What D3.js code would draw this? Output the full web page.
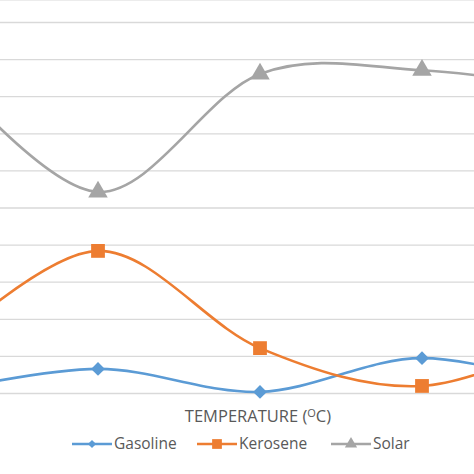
<!DOCTYPE html>
<html>
<head>
<meta charset="utf-8">
<script src="https://cdn.jsdelivr.net/npm/d3@7"></script>
<style>
  body { margin: 0; background: #fff; }
  svg { display: block; }
</style>
</head>
<body>
<div id="chart"></div>
<script>
// data (one value per temperature step; first and last are outside the crop)
var categories = ["T0", "T1", "T2", "T3", "T4"];
var gasoline = [0.0, 0.65, 0.03, 0.94, 0.04];
var kerosene = [1.06, 3.83, 1.21, 0.19, 1.66];
var solar    = [8.98, 5.42, 8.6, 8.7, 8.15];
var yTicks = [0, 1, 2, 3, 4, 5, 6, 7, 8, 9, 10];
var seriesNames = ["Gasoline", "Kerosene", "Solar"];

var width = 474, height = 474;
var colors = {Gasoline: "#5b9bd5", Kerosene: "#ed7d31", Solar: "#a5a5a5"};
// diamond is drawn as a square turned 45 degrees
var symbols = {Gasoline: d3.symbolSquare, Kerosene: d3.symbolSquare, Solar: d3.symbolTriangle};
var rotate = {Gasoline: 45, Kerosene: 0, Solar: 0};

var svg = d3.select("#chart").append("svg")
    .attr("width", width)
    .attr("height", height);

// x positions: the plot is cropped, so the outer categories fall off the page
var x = d3.scalePoint()
    .domain(categories)
    .range([-64, 584]);

var y = d3.scaleLinear()
    .domain([0, 10])
    .range([393, 22]);

// gridlines
svg.append("g")
    .attr("class", "grid")
    .call(d3.axisLeft(y).tickValues(yTicks).tickSize(-width - 20).tickFormat(""))
  .call(function(g) { g.select(".domain").remove(); })
  .selectAll("line")
    .attr("stroke", "#d9d9d9")
    .attr("stroke-width", 1.3);

svg.append("line")
    .attr("x1", 0).attr("x2", width)
    .attr("y1", 0.5).attr("y2", 0.5)
    .attr("stroke", "#ececec");

var series = [
  {name: "Gasoline", values: gasoline},
  {name: "Kerosene", values: kerosene},
  {name: "Solar", values: solar}
];

var line = d3.line()
    .x(function(d, i) { return x(categories[i]); })
    .y(function(d) { return y(d); })
    .curve(d3.curveCardinal.tension(0));

var plot = svg.append("g");

plot.selectAll(".series")
  .data(series)
  .enter().append("path")
    .attr("class", "series")
    .attr("fill", "none")
    .attr("stroke", function(d) { return colors[d.name]; })
    .attr("stroke-width", 2.6)
    .attr("d", function(d) { return line(d.values); });

var markerSize = {Gasoline: 95, Kerosene: 190, Solar: 165};

series.forEach(function(s) {
  plot.selectAll(".m-" + s.name)
    .data(s.values)
    .enter().append("path")
      .attr("transform", function(d, i) {
        return "translate(" + x(categories[i]) + "," + y(d) + ") rotate(" + rotate[s.name] + ")";
      })
      .attr("d", d3.symbol().type(symbols[s.name]).size(markerSize[s.name]))
      .attr("fill", colors[s.name]);
});

// axis title
var title = svg.append("text")
    .attr("x", 258)
    .attr("y", 422)
    .attr("text-anchor", "middle")
    .attr("font-family", "'Open Sans', sans-serif")
    .attr("font-size", 16.5)
    .attr("fill", "#595959");
title.append("tspan").text("TEMPERATURE (");
title.append("tspan").text("O").attr("font-size", 11).attr("dy", -5);
title.append("tspan").text("C)").attr("dy", 5);

// legend
var legendX = {Gasoline: 72, Kerosene: 197, Solar: 331};
var legendSym = {Gasoline: 34, Kerosene: 95, Solar: 65};
var legend = svg.append("g")
  .selectAll(".legend")
  .data(seriesNames)
  .enter().append("g")
    .attr("class", "legend")
    .attr("transform", function(d) { return "translate(" + legendX[d] + ",444)"; });

legend.append("line")
    .attr("x1", 0).attr("x2", 40)
    .attr("stroke", function(d) { return colors[d]; })
    .attr("stroke-width", 2.6);

legend.append("path")
    .attr("transform", function(d) { return "translate(20,0) rotate(" + rotate[d] + ")"; })
    .attr("d", function(d) { return d3.symbol().type(symbols[d]).size(legendSym[d])(); })
    .attr("fill", function(d) { return colors[d]; });

legend.append("text")
    .attr("x", 42)
    .attr("dy", "0.35em")
    .attr("font-family", "'Open Sans', sans-serif")
    .attr("font-size", 15.5)
    .attr("fill", "#595959")
    .text(function(d) { return d; });
</script>
</body>
</html>
